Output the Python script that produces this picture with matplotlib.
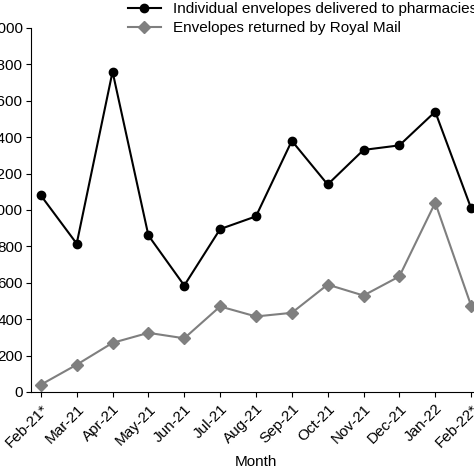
import matplotlib
matplotlib.use("Agg")
import matplotlib.pyplot as plt

plt.rcParams['font.family'] = ['Liberation Sans', 'DejaVu Sans']

months = ["Feb-21*","Mar-21","Apr-21","May-21","Jun-21","Jul-21","Aug-21","Sep-21","Oct-21","Nov-21","Dec-21","Jan-22","Feb-22*"]
delivered = [1080, 815, 1760, 860, 585, 895, 965, 1380, 1140, 1330, 1355, 1540, 1010]
returned = [40, 150, 270, 325, 295, 470, 415, 435, 590, 530, 635, 1040, 475]

fig = plt.figure(figsize=(4.74, 4.74), dpi=100)
ax = fig.add_axes([0.065, 0.173, 0.95, 0.768])
x = range(len(months))
ax.plot(x, delivered, color="black", marker="o", markersize=6, lw=1.5,
        label="Individual envelopes delivered to pharmacies")
ax.plot(x, returned, color="#7f7f7f", marker="D", markersize=6, lw=1.5,
        label="Envelopes returned by Royal Mail")
ax.set_ylim(0, 2000)
ax.set_xlim(-0.28, 12.28)
ax.set_yticks(range(0, 2001, 200))
ax.set_xticks(list(x))
ax.set_xticklabels(months, rotation=45, ha="right", rotation_mode="anchor", fontsize=11)
ax.tick_params(axis="y", labelsize=11, pad=2)
for s in ["top", "right"]:
    ax.spines[s].set_visible(False)
ax.set_xlabel("Month", fontsize=11, labelpad=4)
fig.legend(loc="upper left", bbox_to_anchor=(0.24, 1.025), frameon=False, fontsize=11,
           handlelength=2.2, labelspacing=0.35)
fig.savefig("out.png", dpi=100)
